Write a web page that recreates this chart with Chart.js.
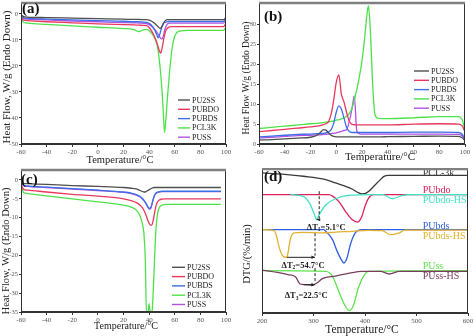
<!DOCTYPE html>
<html>
<head>
<meta charset="utf-8">
<script src="https://cdn.jsdelivr.net/npm/chart.js@4.4.0/dist/chart.umd.min.js"></script>
<style>
  html, body { margin: 0; padding: 0; background: #fff; }
  #fig { position: relative; width: 474px; height: 336px; overflow: hidden; background: #fff; }
  #fig canvas { position: absolute; }
</style>
</head>
<body>
<div id="fig">
  <canvas id="pa" width="237" height="168" style="left:0;top:0"></canvas>
  <canvas id="pb" width="237" height="168" style="left:237px;top:0"></canvas>
  <canvas id="pc" width="237" height="168" style="left:0;top:168px"></canvas>
  <canvas id="pd" width="237" height="168" style="left:237px;top:168px"></canvas>
</div>
<script>
const SERIF = '"Liberation Serif", "Times New Roman", serif';
Chart.defaults.font.family = SERIF;

// DSC samples (legend order)
const seriesNames = ['PU2SS', 'PUBDO', 'PUBDS', 'PCL3K', 'PUSS'];
const seriesColors = ['#4f4f4f', '#e8385e', '#3c6ee6', '#4ee24a', '#b152e3'];

// (a) heat flow, W/g
const tempA = [-60, -58, -55, -40, -20, 0, 20, 28, 32, 36, 38, 40, 42, 44, 46, 47, 48, 49, 50, 51,
  52, 53, 54, 55, 56, 58, 60, 62, 65, 70, 80, 90, 98, 100];
const a_PU2SS = [-0.2, -1.0, -1.2, -1.4, -1.6, -1.8, -2.0, -2.1, -2.1, -2.2, -2.2, -2.4, -2.8, -3.5, -4.4, -4.9, -5.4, -5.5, -4.8, -3.8,
  -2.9, -2.4, -2.2, -2.2, -2.2, -2.2, -2.2, -2.2, -2.2, -2.2, -2.2, -2.2, -2.2, -1.5];
const a_PUBDO = [-1.2, -2.4, -2.6, -3.0, -3.4, -3.8, -4.1, -4.2, -4.3, -4.4, -4.5, -5.2, -6.6, -8.5, -11.0, -12.6, -14.2, -15.1, -13.5, -10.8,
  -8.2, -6.5, -5.6, -5.2, -5.0, -4.9, -4.9, -4.9, -4.9, -4.9, -4.9, -4.9, -4.9, -3.5];
const a_PUBDS = [-0.5, -1.5, -1.7, -2.0, -2.3, -2.6, -2.8, -3.0, -3.0, -3.1, -3.2, -3.6, -4.4, -5.8, -8.0, -9.2, -8.4, -6.6, -4.9, -3.8,
  -3.3, -3.1, -3.0, -2.9, -2.9, -2.9, -2.9, -2.9, -2.9, -2.9, -2.9, -2.9, -2.9, -1.0];
const a_PCL3K = [-1.8, -3.2, -3.5, -4.0, -4.6, -5.1, -5.6, -6.0, -6.8, -6.0, -5.9, -6.5, -7.5, -9.0, -11.5, -14.0, -18.0, -23.0, -29.0, -37.0,
  -45.6, -41.0, -34.0, -28.0, -22.0, -13.0, -8.5, -7.0, -6.5, -6.3, -6.3, -6.3, -6.3, -5.0];
const a_PUSS = [-0.8, -1.8, -2.0, -2.3, -2.7, -3.0, -3.3, -3.4, -3.5, -3.6, -3.7, -4.1, -4.8, -5.8, -7.0, -7.8, -8.6, -9.3, -9.7, -8.6,
  -6.6, -4.9, -4.0, -3.6, -3.5, -3.5, -3.5, -3.5, -3.5, -3.5, -3.5, -3.5, -3.5, -2.0];

// (b) cooling scan
const tempB = [-60, -50, -40, -30, -20, -15, -12, -10, -8, -6, -4, -2, 0, 2, 4, 6, 8, 10, 12, 13,
  14, 16, 18, 20, 22, 24, 25, 26, 27, 28, 29, 30, 32, 35, 40, 60, 80, 95, 98, 100];
const b_PU2SS = [1.0, 1.1, 1.3, 1.5, 1.7, 2.2, 3.0, 3.6, 3.5, 2.8, 2.2, 1.9, 1.8, 1.8, 1.8, 1.8, 1.8, 1.8, 1.8, 1.8,
  1.8, 1.8, 1.8, 1.8, 1.8, 1.8, 1.8, 1.8, 1.8, 1.8, 1.8, 1.8, 1.8, 1.8, 1.85, 1.9, 2.0, 1.9, 1.5, 0.8];
const b_PUBDO = [3.1, 3.4, 3.7, 4.0, 4.3, 4.5, 4.7, 4.9, 5.1, 5.6, 7.5, 11.0, 15.5, 17.4, 12.5, 10.6, 8.0, 5.8, 5.0, 4.9,
  4.85, 4.8, 4.8, 4.8, 4.8, 4.8, 4.8, 4.8, 4.8, 4.8, 4.8, 4.8, 4.8, 4.8, 4.8, 5.0, 5.1, 5.0, 4.5, 3.0];
const b_PUBDS = [1.8, 2.0, 2.2, 2.4, 2.5, 2.6, 2.6, 2.7, 2.8, 3.0, 3.6, 5.2, 8.0, 9.6, 8.8, 6.5, 4.2, 3.2, 2.9, 2.9,
  2.9, 2.9, 2.9, 2.9, 2.9, 2.9, 2.9, 2.9, 2.9, 2.9, 2.9, 2.9, 2.9, 2.9, 2.9, 3.0, 3.0, 2.9, 2.4, 1.2];
const b_PCL3K = [3.9, 4.2, 4.5, 4.8, 5.1, 5.2, 5.3, 5.4, 5.5, 5.6, 5.7, 5.8, 6.0, 6.1, 6.3, 6.6, 7.0, 7.6, 8.8, 9.8,
  11.0, 13.8, 17.0, 21.0, 26.5, 33.0, 34.8, 31.5, 25.0, 17.0, 11.0, 7.5, 6.5, 6.4, 6.4, 6.6, 6.9, 6.9, 6.0, 3.5];
const b_PUSS = [1.5, 1.7, 1.9, 2.1, 2.2, 2.3, 2.3, 2.4, 2.4, 2.5, 2.6, 2.7, 2.8, 3.0, 3.2, 3.4, 3.6, 5.5, 8.5, 10.5,
  12.1, 3.2, 2.6, 2.5, 2.5, 2.5, 2.5, 2.5, 2.5, 2.5, 2.5, 2.5, 2.5, 2.5, 2.5, 2.5, 2.5, 2.4, 2.0, 1.0];

// (c) second heating
const tempC = [-60, -58, -55, -40, -20, 0, 20, 26, 30, 33, 35, 36, 37, 38, 39, 40, 41, 42, 43, 44,
  45, 46, 47, 48, 50, 53, 60, 80, 96];
const c_PU2SS = [-0.3, -0.9, -1.0, -1.2, -1.5, -1.7, -2.0, -2.2, -2.4, -2.8, -3.1, -3.2, -3.2, -3.0, -2.8, -2.6, -2.4, -2.2, -2.1, -2.0,
  -2.0, -2.0, -2.0, -2.0, -2.0, -2.0, -2.0, -2.0, -2.0];
const c_PUBDO = [-1.0, -2.5, -2.7, -3.2, -3.8, -4.3, -5.0, -5.5, -6.0, -6.7, -7.5, -8.1, -8.8, -9.7, -10.7, -11.5, -12.0, -12.0, -11.0, -9.2,
  -7.4, -6.2, -5.6, -5.3, -5.1, -5.0, -5.0, -5.0, -5.0];
const c_PUBDS = [-0.5, -1.4, -1.6, -1.9, -2.3, -2.7, -3.2, -3.5, -3.9, -4.4, -5.0, -5.4, -5.9, -6.5, -7.1, -7.5, -7.5, -6.6, -5.3, -4.2,
  -3.6, -3.3, -3.2, -3.1, -3.0, -3.0, -3.0, -3.0, -3.0];
const c_PCL3K = [-1.5, -3.3, -3.6, -4.2, -5.0, -5.8, -6.7, -7.2, -8.0, -9.6, -12.0, -14.5, -21.0, -35.8, -35.8, -32.8, -35.5, -36.0, -31.0, -23.0,
  -15.0, -10.5, -8.3, -7.3, -6.7, -6.5, -6.5, -6.5, -6.5];
const c_PUSS = [-0.6, -1.5, -1.7, -2.0, -2.4, -2.8, -3.3, -3.6, -4.0, -4.5, -5.1, -5.5, -6.0, -6.6, -7.2, -7.7, -7.7, -6.8, -5.4, -4.3,
  -3.7, -3.4, -3.3, -3.2, -3.1, -3.1, -3.1, -3.1, -3.1];

// (d) DTG curves, stacked (temperature, offset signal)
const dtgPCL3k = [[200, 96.6], [240, 95.8], [280, 94.3], [320, 92.3], [343, 89.7], [360, 87.6], [375, 85.5], [387, 83.0],
  [395, 82.1], [403, 82.8], [412, 85.5], [420, 88.5], [430, 92.0], [437, 94.2], [445, 94.9], [600, 94.9]];
const dtgPUbdo = [[200, 81.6], [330, 81.6], [337, 80.6], [349, 77.0], [362, 70.1], [375, 64.4], [386, 62.7], [394, 66.7],
  [400, 73.6], [407, 79.3], [417, 81.6], [600, 81.6]];
const dtgPUbdoHS = [[255, 81.6], [280, 80.5], [292, 75.9], [302, 67.8], [306, 64.4], [311, 67.8], [324, 74.7], [343, 78.8],
  [368, 81.1], [420, 81.6], [435, 81.6], [453, 78.8], [473, 81.1], [487, 81.6], [600, 81.6]];
const dtgPUbds = [[200, 57.5], [320, 57.5], [324, 56.3], [337, 50.6], [346, 42.5], [354, 36.8], [359, 34.5], [365, 37.9],
  [371.5, 47.1], [381, 55.2], [394, 57.5], [600, 57.5]];
const dtgPUbdsHS = [[200, 57.5], [223, 57.0], [227.5, 54.0], [232, 47.1], [237, 41.4], [242, 38.9], [248, 38.4], [250.5, 41.4],
  [253, 47.1], [256.5, 52.8], [262, 55.2], [280, 55.6], [318, 55.2], [343, 55.8], [375, 56.3], [407, 57.0], [433, 56.8],
  [450, 54.0], [467, 55.2], [477, 57.2], [600, 57.2]];
const dtgPUss = [[200, 29.2], [324, 28.7], [337, 25.3], [349, 14.9], [362, 4.5], [370, 1.6], [378, 5.7], [387, 17.2],
  [397, 25.3], [407, 28.7], [600, 29.2]];
const dtgPUssHS = [[200, 29.6], [230, 28.0], [250, 26.5], [265, 25.0], [270, 22.0], [274, 20.0], [285, 19.6], [298, 19.3],
  [308, 21.0], [318, 23.9], [342, 25.5], [370, 27.5], [394, 28.7], [430, 28.7], [447, 26.9], [467, 28.7], [600, 28.7]];

// peak shift annotations
const guideTemp = 303;
const shiftLabels = ['1', '2', '3'];
const shiftValues = [5.1, 54.7, 22.5];

// ---------- helpers ----------
const line = (label, color, data) => ({
  label, data, borderColor: color, backgroundColor: color,
  borderWidth: 1.3, pointRadius: 0, fill: false, cubicInterpolationMode: 'monotone'
});

const dscSets = (temps, rows) => rows.map((vals, i) =>
  line(seriesNames[i], seriesColors[i], temps.map((t, k) => ({ x: t, y: vals[k] }))));

const pairs = arr => arr.map(([x, y]) => ({ x, y }));

// frame, panel letter, axis titles and small legend
const panelDeco = {
  id: 'panelDeco',
  afterDraw(chart, args, o) {
    const { ctx, chartArea: a } = chart;
    ctx.save();
    ctx.strokeStyle = '#333';
    ctx.lineWidth = 1;
    ctx.strokeRect(a.left + 0.5, a.top + 0.5, a.right - a.left - 1, a.bottom - a.top - 1);
    ctx.strokeStyle = '#808080';
    ctx.lineWidth = 2.5;
    ctx.beginPath();
    ctx.moveTo(a.left, a.top + 1);
    ctx.lineTo(a.right, a.top + 1);
    ctx.stroke();

    ctx.fillStyle = '#111';
    ctx.textBaseline = 'top';
    ctx.textAlign = 'left';
    ctx.font = 'bold 15px ' + SERIF;
    ctx.fillText(o.tag, a.left + o.tagAt[0], a.top + o.tagAt[1]);

    ctx.fillStyle = '#222';
    ctx.textAlign = 'center';
    ctx.textBaseline = 'middle';
    ctx.font = o.xTitle[3] + 'px ' + SERIF;
    ctx.fillText(o.xTitle[0], o.xTitle[1], o.xTitle[2]);
    ctx.save();
    ctx.translate(o.yTitle[1], o.yTitle[2]);
    ctx.rotate(-Math.PI / 2);
    ctx.font = o.yTitle[3] + 'px ' + SERIF;
    ctx.fillText(o.yTitle[0], 0, 0);
    ctx.restore();

    if (o.legend) {
      const L = o.legend;
      ctx.textAlign = 'left';
      ctx.font = L.size + 'px ' + SERIF;
      chart.data.datasets.forEach((ds, i) => {
        const y = L.y0 + i * L.dy;
        ctx.strokeStyle = ds.borderColor;
        ctx.lineWidth = 1.4;
        ctx.beginPath();
        ctx.moveTo(L.x0, y);
        ctx.lineTo(L.x1, y);
        ctx.stroke();
        ctx.fillStyle = '#222';
        ctx.fillText(ds.label, L.x1 + 2, y + 0.5);
      });
    }
    ctx.restore();
  }
};

function arrowTo(ctx, x0, y0, x1, y1) {
  ctx.beginPath();
  ctx.moveTo(x0, y0);
  ctx.lineTo(x1, y1);
  ctx.stroke();
  const ang = Math.atan2(y1 - y0, x1 - x0);
  ctx.beginPath();
  ctx.moveTo(x1, y1);
  ctx.lineTo(x1 - 4 * Math.cos(ang - 0.45), y1 - 4 * Math.sin(ang - 0.45));
  ctx.lineTo(x1 - 4 * Math.cos(ang + 0.45), y1 - 4 * Math.sin(ang + 0.45));
  ctx.closePath();
  ctx.fill();
}

function deltaText(ctx, x, y, sub, val) {
  ctx.textAlign = 'left';
  ctx.textBaseline = 'middle';
  ctx.font = 'bold 8.5px ' + SERIF;
  ctx.fillText('\u0394T', x, y);
  let w = ctx.measureText('\u0394T').width;
  ctx.font = 'bold 5.5px ' + SERIF;
  ctx.fillText(sub, x + w, y + 2.5);
  w += ctx.measureText(sub).width;
  ctx.font = 'bold 8.5px ' + SERIF;
  ctx.fillText('=' + val + '\u00B0C', x + w, y);
}

// curve names, guide lines and shift arrows on the DTG panel
const dtgNotes = {
  id: 'dtgNotes',
  afterDatasetsDraw(chart, args, o) {
    const { ctx, scales: { x, y } } = chart;
    const px = v => x.getPixelForValue(v);
    const py = v => y.getPixelForValue(v);
    ctx.save();
    ctx.strokeStyle = '#222';
    ctx.fillStyle = '#222';
    ctx.lineWidth = 1;

    const topGuide = 306 + shiftValues[0];
    ctx.setLineDash([3, 2]);
    ctx.beginPath();
    ctx.moveTo(px(topGuide), py(84));
    ctx.lineTo(px(topGuide), py(65.5));
    ctx.moveTo(px(guideTemp), py(55));
    ctx.lineTo(px(guideTemp), py(39.5));
    ctx.moveTo(px(guideTemp), py(31));
    ctx.lineTo(px(guideTemp), py(20.5));
    ctx.stroke();
    ctx.setLineDash([]);

    arrowTo(ctx, px(topGuide), py(64.4), px(306), py(64.4));
    arrowTo(ctx, px(guideTemp - shiftValues[1]), py(38.4), px(guideTemp), py(38.4));
    arrowTo(ctx, px(guideTemp - shiftValues[2]), py(19.5), px(guideTemp), py(19.5));

    deltaText(ctx, px(287), py(59), shiftLabels[0], shiftValues[0]);
    deltaText(ctx, px(238), py(32.8), shiftLabels[1], shiftValues[1]);
    deltaText(ctx, px(244), py(11.9), shiftLabels[2], shiftValues[2]);

    ctx.font = '10px ' + SERIF;
    ctx.textBaseline = 'middle';
    chart.data.datasets.forEach(ds => {
      ctx.fillStyle = ds.borderColor;
      ctx.fillText(ds.label, px(o.labelTemp), py(o.labelAt[ds.label]));
    });
    ctx.restore();
  }
};

function tempAxis(min, max, step, height) {
  return {
    type: 'linear', min, max,
    afterBuildTicks: s => { s.ticks = s.ticks.filter(t => Math.abs(t.value % step) < 1e-6); },
    afterFit: s => { s.height = height; s.paddingLeft = 0; s.paddingRight = 0; },
    ticks: { stepSize: step, font: { size: 7 }, color: '#555', padding: 1, maxRotation: 0, autoSkip: false },
    grid: { drawOnChartArea: false, tickLength: 3, color: '#333' },
    border: { color: '#333' }
  };
}

function valueAxis(min, max, step, width, tickSize) {
  const show = tickSize > 0;
  return {
    type: 'linear', min, max,
    afterBuildTicks: s => { s.ticks = s.ticks.filter(t => Math.abs(t.value % step) < 1e-6); },
    afterFit: s => { s.width = width; s.paddingTop = 0; s.paddingBottom = 0; },
    ticks: { display: show, stepSize: step, font: { size: tickSize || 6 }, color: '#555', padding: 1, autoSkip: false },
    grid: { display: show, drawOnChartArea: false, tickLength: 2, color: '#333' },
    border: { color: '#333' }
  };
}

function panel(id, datasets, xAxis, yAxis, pad, deco, extra) {
  const plugins = [panelDeco];
  if (extra) plugins.push(extra.plugin);
  return new Chart(document.getElementById(id), {
    type: 'line',
    data: { datasets },
    options: {
      responsive: false,
      animation: false,
      layout: { padding: pad },
      scales: { x: xAxis, y: yAxis },
      plugins: Object.assign({ legend: { display: false }, tooltip: { enabled: false }, panelDeco: deco },
        extra ? { [extra.plugin.id]: extra.opts } : {})
    },
    plugins
  });
}

// ---------- panels ----------
panel('pa', dscSets(tempA, [a_PU2SS, a_PUBDO, a_PUBDS, a_PCL3K, a_PUSS]),
  tempAxis(-60, 100, 20, 24), valueAxis(-50, 4.6, 10, 21, 6.5),
  { left: 0, top: 2, right: 11, bottom: 0 },
  { tag: '(a)', tagAt: [1, 0],
    xTitle: ['Temperature/\u00B0C', 120, 160, 10.5],
    yTitle: ['Heat Flow, W/g (Endo Down)', 6.7, 77, 11],
    legend: { x0: 178, x1: 190, y0: 100, dy: 9.3, size: 8 } });

panel('pb', dscSets(tempB, [b_PU2SS, b_PUBDO, b_PUBDS, b_PCL3K, b_PUSS]),
  tempAxis(-60, 100, 20, 24), valueAxis(0, 35.75, 5, 22, 6),
  { left: 0, top: 2, right: 9, bottom: 0 },
  { tag: '(b)', tagAt: [5, 8],
    xTitle: ['Temperature/\u00B0C', 143, 157, 11],
    yTitle: ['Heat Flow W/g (Endo Down)', 9.5, 78, 9.5],
    legend: { x0: 177, x1: 192, y0: 71, dy: 9.3, size: 8 } });

panel('pc', dscSets(tempC, [c_PU2SS, c_PUBDO, c_PUBDS, c_PCL3K, c_PUSS]),
  tempAxis(-60, 100, 20, 24), valueAxis(-35, 2.9, 5, 21, 6.5),
  { left: 0, top: 1, right: 11, bottom: 0 },
  { tag: '(c)', tagAt: [0, 4],
    xTitle: ['Temperature/\u00B0C', 126, 158, 10],
    yTitle: ['Heat Flow, W/g (Endo Down)', 6.7, 83, 10.5],
    legend: { x0: 172, x1: 185, y0: 99.3, dy: 9.3, size: 8 } });

panel('pd', [
    line('PUss-HS', '#7b3f5e', pairs(dtgPUssHS)),
    line('PUss', '#5ee34e', pairs(dtgPUss)),
    line('PUbds-HS', '#e3b22e', pairs(dtgPUbdsHS)),
    line('PUbds', '#2f5fe0', pairs(dtgPUbds)),
    line('PUbdo-HS', '#3fe3c4', pairs(dtgPUbdoHS)),
    line('PUbdo', '#e0205a', pairs(dtgPUbdo)),
    line('PCL-3k', '#3a3a3a', pairs(dtgPCL3k))
  ],
  tempAxis(200, 600, 100, 23), valueAxis(0, 100, 10, 25, 0),
  { left: 0, top: 0, right: 6, bottom: 0 },
  { tag: '(d)', tagAt: [2, 2],
    xTitle: ['Temperature/\u00B0C', 125, 162, 11.5],
    yTitle: ['DTG/(%/min)', 10, 86, 10.5] },
  { plugin: dtgNotes,
    opts: { labelTemp: 512,
      labelAt: { 'PCL-3k': 96.5, 'PUbdo': 84.4, 'PUbdo-HS': 77.7, 'PUbds': 59.8, 'PUbds-HS': 52.9, 'PUss': 32.2, 'PUss-HS': 25.3 } } });
</script>
</body>
</html>
